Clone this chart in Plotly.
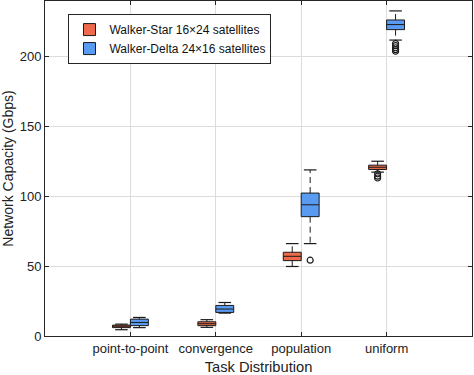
import plotly.graph_objects as go

categories = ["point-to-point", "convergence", "population", "uniform"]

star_min = [4.5, 6.2, 49.8, 117.4]
star_q1 = [6.0, 7.4, 54.0, 119.3]
star_med = [7.0, 8.8, 57.1, 120.9]
star_q3 = [7.8, 10.2, 60.0, 122.4]
star_max = [8.5, 11.7, 66.2, 125.2]
star_out_x = ["uniform", "uniform", "uniform"]
star_out_y = [116.2, 114.5, 113.2]

delta_min = [6.0, 16.4, 66.2, 212.0]
delta_q1 = [7.4, 16.9, 85.5, 219.5]
delta_med = [9.7, 19.3, 94.0, 223.1]
delta_q3 = [12.1, 21.9, 102.4, 226.4]
delta_max = [13.3, 24.0, 119.0, 232.9]
delta_out_x = ["population", "uniform", "uniform", "uniform", "uniform", "uniform"]
delta_out_y = [54.3, 209.5, 208.0, 206.5, 205.2, 204.0]

names = ["Walker-Star 16×24 satellites", "Walker-Delta 24×16 satellites"]
colors = ["#EE6A4A", "#5A9BF2"]
INK = "#1a1a1a"

fig = go.Figure()
series = [
    (names[0], colors[0], star_min, star_q1, star_med, star_q3, star_max, star_out_x, star_out_y, "g1"),
    (names[1], colors[1], delta_min, delta_q1, delta_med, delta_q3, delta_max, delta_out_x, delta_out_y, "g2"),
]

# dashed whiskers (MATLAB style) drawn as grouped scatter lines
for name, col, mn, q1, md, q3, mx, ox, oy, grp in series:
    wx, wy = [], []
    for c, a, b, lo, hi in zip(categories, q1, q3, mn, mx):
        wx += [c, c, None, c, c, None]
        wy += [b, hi, None, a, lo, None]
    fig.add_trace(go.Scatter(
        x=wx, y=wy, mode="lines", offsetgroup=grp, showlegend=False,
        line=dict(color=INK, width=1, dash="6px,4px"), hoverinfo="skip",
    ))
    fig.add_trace(go.Scatter(
        x=categories + categories, y=list(mn) + list(mx), mode="markers",
        offsetgroup=grp, showlegend=False,
        marker=dict(symbol="line-ew", size=9, line=dict(color=INK, width=1.2)),
        hoverinfo="skip",
    ))

for name, col, mn, q1, md, q3, mx, ox, oy, grp in series:
    fig.add_trace(go.Box(
        name=name, x=categories,
        q1=q1, median=md, q3=q3, lowerfence=q1, upperfence=q3,
        boxpoints=False, offsetgroup=grp,
        fillcolor=col, line=dict(color=INK, width=1),
        whiskerwidth=0,
    ))
for name, col, mn, q1, md, q3, mx, ox, oy, grp in series:
    fig.add_trace(go.Scatter(
        x=ox, y=oy, mode="markers", offsetgroup=grp, showlegend=False,
        marker=dict(symbol="circle-open", color=INK, size=6, line=dict(width=1.2)),
    ))

axis_common = dict(
    showline=True, linecolor="#262626", linewidth=1, mirror="ticks",
    ticks="inside", ticklen=4, tickcolor="#262626",
    showgrid=True, gridcolor="#dcdcdc", gridwidth=1, zeroline=False,
    tickfont=dict(family="Liberation Sans, Arial", size=13, color="#222"),
    automargin=False,
)

fig.update_layout(
    width=474, height=375,
    margin=dict(l=45, r=2, t=1, b=39),
    paper_bgcolor="white", plot_bgcolor="white",
    boxmode="group", boxgap=0.58, boxgroupgap=0,
    scattermode="group", scattergap=0.58,
    font=dict(family="Liberation Sans, Arial", size=13, color="#222"),
    showlegend=True,
    legend=dict(x=0.055, y=0.961, xanchor="left", yanchor="top",
                bordercolor="#262626", borderwidth=1, bgcolor="white",
                font=dict(size=12, color="#111"), tracegroupgap=0,
                itemwidth=30),
    xaxis=dict(axis_common, range=[-1, 4], type="category",
               categoryorder="array", categoryarray=categories,
               title=dict(text="Task Distribution", standoff=12,
                          font=dict(size=14.7, color="#222"))),
    yaxis=dict(axis_common, range=[0, 240], tickvals=[0, 50, 100, 150, 200],
               title=dict(text="Network Capacity (Gbps)", standoff=6,
                          font=dict(size=14, color="#222"))),
)

fig.write_html("out.html")
